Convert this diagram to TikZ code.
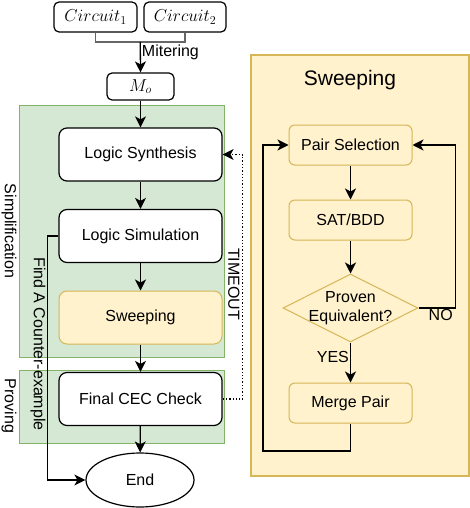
\documentclass[tikz,border=0pt]{standalone}
\usepackage{amsmath, amssymb}
\usepackage{fontspec}
\setmainfont{Liberation Sans}
\usetikzlibrary{arrows.meta, shapes.geometric}
\definecolor{simGreen}{RGB}{213, 232, 212}
\definecolor{simGreenLine}{RGB}{130, 179, 102}
\definecolor{sweepYellow}{RGB}{255, 242, 204}
\definecolor{sweepLine}{RGB}{214, 182, 86}

\begin{document}
\begin{tikzpicture}[x=1pt, y=-1pt, font=\fontsize{16}{19}\selectfont,
    flow/.style={line width=1.3pt, -{Stealth[length=11pt, width=11pt, inset=3pt]}},
    stepbox/.style={draw, line width=1.2pt, rounded corners=8pt, fill=white,
      minimum width=163pt, minimum height=53pt},
    sweepbox/.style={draw=sweepLine, line width=1pt, rounded corners=6pt,
      fill=sweepYellow, minimum width=123pt, minimum height=40pt},
    circbox/.style={draw, line width=1.2pt, rounded corners=5pt, fill=white,
      minimum height=30pt, inner sep=2pt, font=\fontsize{18}{22}\selectfont}]
  \useasboundingbox (0,0) rectangle (470,508);
  % Regions
  \filldraw[fill=simGreen, draw=simGreenLine] (19,105) rectangle (224,357);
  \filldraw[fill=simGreen, draw=simGreenLine] (19,370) rectangle (224,443);
  \filldraw[fill=sweepYellow, draw=sweepLine, line width=1.5pt] (251,55) rectangle (469,476);
  \node[rotate=-90] (simp) at (9,231) {Simplification};
  \node[rotate=-90] (prov) at (9,406) {Proving};
  \node[font=\fontsize{21}{25}\selectfont] (title) at (350,80) {Sweeping};
  % Inputs
  \node[circbox, minimum width=83pt] (c1) at (95.5,17) {$Circuit_1$};
  \node[circbox, minimum width=82pt] (c2) at (185,17) {$Circuit_2$};
  \node[circbox, minimum width=67pt, minimum height=27pt] (mo) at (140.5,86.5) {$M_o$};
  % Main flow
  \node[stepbox] (synth) at (140.5,154.5) {Logic Synthesis};
  \node[stepbox] (simul) at (140.5,236) {Logic Simulation};
  \node[stepbox, fill=sweepYellow, draw=sweepLine, line width=1pt] (sweep) at (140.5,317.5) {Sweeping};
  \node[stepbox] (final) at (140.5,399) {Final CEC Check};
  \node[ellipse, draw, line width=1.2pt, fill=white, minimum width=108pt,
    minimum height=54pt] (endn) at (140,480) {End};
  % Sweeping detail
  \node[sweepbox] (pair) at (350.5,145) {Pair Selection};
  \node[sweepbox] (satbdd) at (350.5,220) {SAT/BDD};
  \node[diamond, aspect=2, draw=sweepLine, line width=1pt, fill=sweepYellow,
    minimum width=135pt, minimum height=68pt, inner sep=-3pt, align=center]
    (equiv) at (350.5,308) {Proven\\Equivalent?};
  \node[sweepbox] (merge) at (350.5,403) {Merge Pair};
  % Mitering
  \coordinate (mit) at (140.25,42);
  \draw[black!60, line width=1.2pt] (c1.south) |- (mit) -| (c2.south);
  \draw[flow] (mit) -- node[right, pos=0.35, inner sep=1pt] {Mitering} (mo.north);
  % Arrows
  \draw[flow] (mo.south) -- (synth.north);
  \draw[flow] (synth) -- (simul);
  \draw[flow] (simul) -- (sweep);
  \draw[flow] (sweep) -- (final);
  \draw[flow] (final) -- (endn);
  % Counter-example
  \draw[flow] (simul.west) -- ++(-11,0) |- (endn.west);
  \node[rotate=-90] (cex) at (38,344) {Find A Counter-example};
  % Timeout
  \draw[flow, dotted] (final.east) -- ++(20,0) |- (synth.east);
  \node[rotate=-90] (tout) at (234,284) {TIMEOUT};
  % Loop
  \draw[flow] (pair) -- (satbdd);
  \draw[flow] (satbdd) -- (equiv);
  \draw[flow] (equiv.south) -- node[left, pos=0.37, inner sep=1pt] {YES} (merge.north);
  \draw[flow] (equiv.east) -- node[below, pos=0.6, inner sep=1pt] {NO} ++(37,0) |- (pair.east);
  \coordinate (loopL) at (263,451);
  \draw[flow] (merge.south) |- (loopL) |- (pair.west);
\end{tikzpicture}
\end{document}
